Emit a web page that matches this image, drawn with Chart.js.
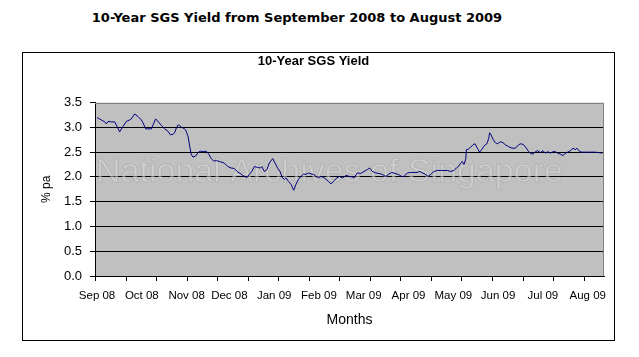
<!DOCTYPE html>
<html>
<head>
<meta charset="utf-8">
<script src="https://cdn.jsdelivr.net/npm/chart.js@4/dist/chart.umd.min.js"></script>
<style>
  html, body { margin: 0; padding: 0; background: #fff; }
  body { width: 639px; height: 357px; position: relative; overflow: hidden; }
  #mainTitle { position: absolute; left: 0; top: 9px; width: 594px; text-align: center;
    font: bold 13px "DejaVu Sans", sans-serif; line-height: 18px; color: #000; }
  #frame { position: absolute; left: 22px; top: 52px; width: 591px; height: 287px; border: 1px solid #000; }
  #c { position: absolute; left: 0; top: 0; }
</style>
</head>
<body>
<div id="mainTitle">10-Year SGS Yield from September 2008 to August 2009</div>
<div id="frame"><canvas id="c" width="591" height="287"></canvas></div>
<script>
// Trading-day index (0..250 across Sep 08 - Aug 09) and yield values
const dayIdx = [1.0,3.1,4.8,5.6,6.4,8.0,9.7,10.8,12.1,13.8,15.4,17.0,17.8,19.5,21.1,22.8,23.6,24.9,26.0,27.7,28.5,29.8,30.9,32.6,34.2,35.9,37.0,38.3,39.1,40.0,40.8,41.6,42.4,43.2,44.5,45.7,46.5,47.3,48.1,49.4,50.6,51.7,53.1,54.7,56.0,57.1,58.3,59.6,61.2,
63.5,65.2,66.8,68.4,70.1,71.7,73.4,74.7,75.8,77.0,78.3,79.9,81.2,81.9,83.2,84.5,85.6,87.3,88.4,89.7,91.0,91.9,93.0,93.8,95.0,96.3,97.6,98.7,99.9,101.2,102.5,103.6,104.8,106.1,107.4,108.6,109.7,111.0,112.3,113.5,114.6,115.9,117.2,118.4,120.0,121.6,123.3,124.9,
126.4,127.2,128.9,130.5,132.1,133.8,134.9,136.2,137.9,139.5,141.1,142.8,144.1,145.7,147.4,149.0,150.6,151.8,153.4,155.0,156.7,158.3,159.5,160.8,162.4,163.7,164.9,166.5,168.1,169.8,171.4,173.1,174.7,176.3,177.5,178.5,179.6,180.4,181.2,182.1,182.4,183.4,184.5,185.7,186.6,187.8,
188.9,190.1,191.2,192.5,193.4,193.8,194.5,195.5,196.6,197.8,199.1,200.4,201.5,203.2,204.8,206.5,208.1,209.2,210.5,211.9,213.0,214.2,215.1,216.3,217.4,218.7,220.0,221.2,222.3,223.6,225.0,226.1,227.2,228.6,229.9,231.0,232.2,233.5,234.8,235.9,236.7,238.1,239.2,240.8,242.5,244.1,245.7,247.4,249.0];
const yieldPct = [3.20,3.15,3.11,3.07,3.12,3.11,3.11,3.02,2.91,3.02,3.12,3.15,3.17,3.27,3.22,3.15,3.09,2.97,2.97,2.97,3.05,3.17,3.12,3.04,2.97,2.92,2.85,2.86,2.89,2.99,3.05,3.04,3.00,2.99,2.95,2.82,2.62,2.45,2.40,2.42,2.49,2.52,2.51,2.52,2.45,2.37,2.32,2.33,2.31,
2.28,2.21,2.18,2.17,2.10,2.06,2.01,1.99,2.05,2.11,2.21,2.19,2.18,2.21,2.11,2.15,2.28,2.37,2.28,2.18,2.10,1.99,1.95,1.98,1.91,1.85,1.73,1.85,1.95,2.01,2.06,2.05,2.08,2.06,2.05,2.01,1.98,2.01,1.99,1.95,1.91,1.86,1.91,1.97,2.01,1.98,2.03,2.01,
2.00,1.98,2.08,2.07,2.11,2.15,2.18,2.11,2.08,2.07,2.05,2.01,2.05,2.09,2.07,2.05,2.01,2.01,2.08,2.09,2.09,2.09,2.11,2.08,2.05,2.01,2.05,2.11,2.13,2.13,2.13,2.13,2.11,2.13,2.18,2.21,2.28,2.31,2.25,2.36,2.55,2.56,2.60,2.65,2.67,2.58,
2.50,2.56,2.63,2.67,2.78,2.89,2.85,2.76,2.69,2.67,2.71,2.69,2.65,2.61,2.58,2.58,2.65,2.67,2.65,2.58,2.51,2.47,2.46,2.51,2.53,2.49,2.53,2.48,2.51,2.48,2.51,2.51,2.48,2.46,2.43,2.48,2.50,2.53,2.58,2.55,2.58,2.51,2.50,2.50,2.50,2.50,2.50,2.49,2.48];

// Category axis labels and where they fall (trading-day index)
const monthLabels = ['Sep 08','Oct 08','Nov 08','Dec 08','Jan 09','Feb 09','Mar 09','Apr 09','May 09','Jun 09','Jul 09','Aug 09'];
const labelDays = [1, 23, 45, 66, 88, 110, 132, 154, 176, 198, 220, 242];
const tickMarkDays = [0,15,30,45,60,75,90,105,120,135,150,165,180,195,210,225,240];
const yTickLabels = ['0.0','0.5','1.0','1.5','2.0','2.5','3.0','3.5'];
const totalDays = 250;

const points = dayIdx.map((d, i) => ({ x: d, y: yieldPct[i] }));

const plotDeco = {
  id: 'plotDeco',
  beforeDraw(chart) {
    const { ctx, chartArea: a } = chart;
    ctx.save();
    ctx.fillStyle = '#C0C0C0';
    ctx.fillRect(a.left, a.top, a.right - a.left, a.bottom - a.top);
    ctx.restore();
  },
  beforeDatasetsDraw(chart) {
    const { ctx, chartArea: a } = chart;
    ctx.save();
    // plot-area border (top / right) in grey
    ctx.strokeStyle = '#808080';
    ctx.lineWidth = 1;
    ctx.beginPath();
    ctx.moveTo(a.left, Math.round(a.top) + 0.5);
    ctx.lineTo(Math.round(a.right) - 0.5, Math.round(a.top) + 0.5);
    ctx.lineTo(Math.round(a.right) - 0.5, a.bottom);
    ctx.stroke();
    // watermark
    ctx.font = '34px "Liberation Sans", Arial, sans-serif';
    ctx.textAlign = 'center';
    ctx.textBaseline = 'alphabetic';
    const cx = (a.left + a.right) / 2 - 20;
    const cy = chart.scales.y.getPixelForValue(2.0) + 5;
    ctx.fillStyle = 'rgba(222,222,222,0.5)';
    ctx.fillText('National Archives of Singapore', cx, cy);
    ctx.strokeStyle = 'rgba(150,150,150,0.35)';
    ctx.lineWidth = 1;
    ctx.strokeText('National Archives of Singapore', cx, cy);
    ctx.restore();
  },
  afterDraw(chart) {
    const { ctx, chartArea: a } = chart;
    const xs = chart.scales.x;
    ctx.save();
    ctx.strokeStyle = '#000';
    ctx.lineWidth = 1;
    tickMarkDays.forEach(d => {
      const px = Math.round(xs.getPixelForValue(d)) + 0.5;
      ctx.beginPath();
      ctx.moveTo(px, a.bottom);
      ctx.lineTo(px, a.bottom + 5);
      ctx.stroke();
    });
    ctx.restore();
  }
};

new Chart(document.getElementById('c'), {
  type: 'line',
  data: {
    datasets: [{
      label: '10-Year SGS Yield',
      data: points,
      borderColor: '#000080',
      borderWidth: 1,
      pointRadius: 0,
      tension: 0,
      fill: false
    }]
  },
  options: {
    responsive: false,
    animation: false,
    devicePixelRatio: 1,
    layout: { padding: { left: 0, right: 10, top: 0, bottom: 0 } },
    plugins: {
      legend: { display: false },
      tooltip: { enabled: false },
      title: {
        display: true,
        text: '10-Year SGS Yield',
        color: '#000',
        font: { family: '"Liberation Sans", Arial, sans-serif', size: 13, weight: 'bold' },
        padding: { top: 1, bottom: 33 }
      }
    },
    scales: {
      x: {
        type: 'linear',
        min: 0,
        max: totalDays,
        afterBuildTicks: s => { s.ticks = labelDays.map(v => ({ value: v })); },
        afterFit: s => { s.height = 64; s.paddingLeft = 0; s.paddingRight = 0; },
        ticks: {
          autoSkip: false,
          maxRotation: 0,
          padding: 13,
          color: '#000',
          font: { family: '"Liberation Sans", Arial, sans-serif', size: 11.5 },
          callback: (v, i) => monthLabels[i]
        },
        grid: { display: false, drawTicks: false },
        border: { display: true, color: '#000', width: 1 },
        title: {
          display: true,
          text: 'Months',
          color: '#000',
          font: { family: '"Liberation Sans", Arial, sans-serif', size: 14 },
          padding: { top: 0, bottom: 11 }
        }
      },
      y: {
        min: 0,
        max: 3.5,
        afterFit: s => { s.width = 72; },
        ticks: {
          stepSize: 0.5,
          padding: 8,
          color: '#000',
          font: { family: '"Liberation Sans", Arial, sans-serif', size: 13 },
          callback: (v, i) => yTickLabels[i]
        },
        grid: {
          color: c => (c.tick && c.tick.value === 3.5) ? 'rgba(0,0,0,0)' : '#000',
          tickColor: '#000',
          tickLength: 5,
          lineWidth: 1
        },
        border: { display: true, color: '#000', width: 1 },
        title: {
          display: true,
          text: '% pa',
          color: '#000',
          font: { family: '"Liberation Sans", Arial, sans-serif', size: 12 },
          padding: { top: 16, bottom: 0 }
        }
      }
    }
  },
  plugins: [plotDeco]
});
</script>
</body>
</html>
